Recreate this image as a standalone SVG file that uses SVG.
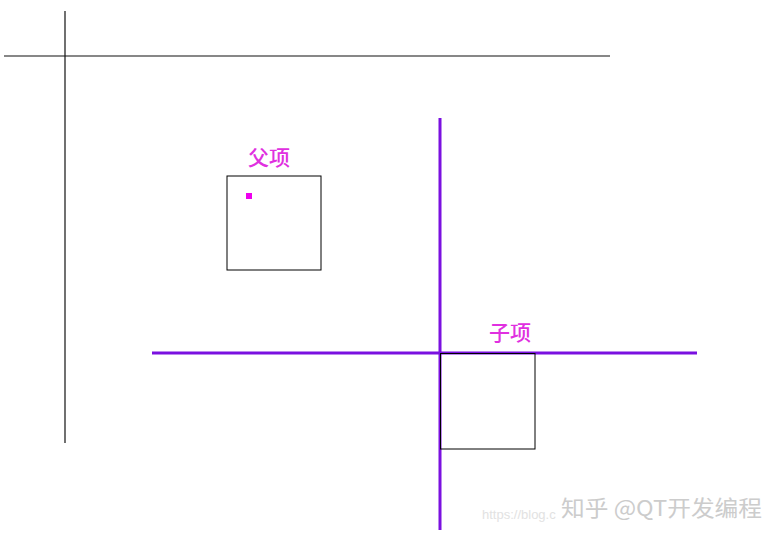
<svg xmlns="http://www.w3.org/2000/svg" width="782" height="541" viewBox="0 0 782 541">
<style>
.axis{stroke:#111;stroke-width:1.2;fill:none}
.paxis{stroke:#7a10e0;stroke-width:3;fill:none}
.box{stroke:#000;stroke-width:1;fill:none}
.lbl{font-family:"Noto Sans CJK SC",sans-serif;font-size:21px;font-weight:500;fill:#e030e0;text-anchor:middle}
.wm{font-family:"Noto Sans CJK SC",sans-serif;font-size:22px;fill:#cccccc}
.url{font-family:"Liberation Sans",sans-serif;font-size:13px;fill:#e2e2e2}
</style>
<rect width="782" height="541" fill="#fff"/>
<g id="connectors">
<line class="axis" x1="4" y1="56" x2="610" y2="56"/>
<line class="axis" x1="65" y1="11" x2="65" y2="443"/>
<line class="paxis" x1="152" y1="353" x2="697" y2="353"/>
<line class="paxis" x1="440" y1="118" x2="440" y2="530"/>
</g>
<g id="parent">
<rect class="box" x="227" y="176" width="94" height="94"/>
<rect x="246" y="193" width="6" height="6" fill="#ee00ee"/>
<text class="lbl" x="269" y="165">父项</text>
</g>
<g id="child">
<rect class="box" x="440.5" y="353.5" width="94.5" height="95.5"/>
<text class="lbl" x="510" y="340">子项</text>
</g>
<g id="watermark">
<text class="url" x="482" y="519">https://blog.c</text>
<text class="wm" x="561" y="516" textLength="201" lengthAdjust="spacingAndGlyphs">知乎 @QT开发编程</text>
</g>
</svg>
